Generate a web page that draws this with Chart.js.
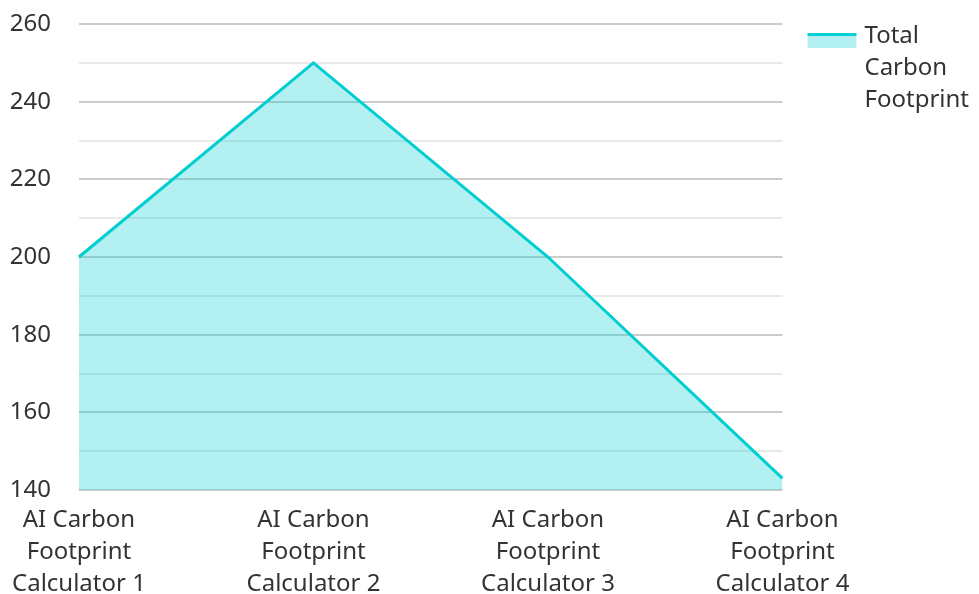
<!DOCTYPE html>
<html>
<head>
<meta charset="utf-8">
<script src="https://cdn.jsdelivr.net/npm/chart.js@4"></script>
<style>
html,body{margin:0;padding:0;background:#fff;}
#wrap{width:979px;height:594px;position:relative;}
</style>
</head>
<body>
<div id="wrap"><canvas id="c"></canvas></div>
<script>
const categories = [
  ["AI Carbon", "Footprint", "Calculator 1"],
  ["AI Carbon", "Footprint", "Calculator 2"],
  ["AI Carbon", "Footprint", "Calculator 3"],
  ["AI Carbon", "Footprint", "Calculator 4"]
];
const seriesLabel = ["Total", "Carbon", "Footprint"];
const seriesValues = [200, 250, 200, 143];
const yMin = 140, yMax = 260, yStep = 10, yLabelStep = 20;

const lineColor = '#00CED1';
const fillColor = 'rgba(0,206,209,0.3)';
const FONT = '"Noto Sans", "Open Sans", sans-serif';

// legend glyph: line above fill
const glyph = document.createElement('canvas');
glyph.width = 70; glyph.height = 40;
(function(){
  const g = glyph.getContext('2d');
  g.fillStyle = fillColor;
  g.fillRect(20, 17, 49, 15);
  g.fillStyle = lineColor;
  g.fillRect(20, 17, 49, 3);
})();

Chart.defaults.font.family = FONT;
Chart.defaults.color = '#333';

new Chart(document.getElementById('c'), {
  type: 'line',
  data: {
    labels: categories,
    datasets: [{
      label: seriesLabel,
      data: seriesValues,
      borderColor: lineColor,
      backgroundColor: fillColor,
      borderWidth: 3,
      fill: 'start',
      tension: 0,
      pointRadius: 0,
      pointHoverRadius: 0,
      pointStyle: glyph
    }]
  },
  options: {
    responsive: true,
    maintainAspectRatio: false,
    animation: false,
    layout: { padding: { left: 0, right: 0, top: 14, bottom: -18 } },
    plugins: {
      tooltip: { enabled: false },
      legend: {
        position: 'right',
        align: 'start',
        labels: {
          usePointStyle: true,
          pointStyleWidth: 60,
          boxHeight: 15,
          color: '#333',
          font: { size: 24, family: FONT, lineHeight: '32px' },
          padding: 10
        }
      }
    },
    scales: {
      x: {
        offset: false,
        grid: { display: true, drawOnChartArea: false, drawTicks: true, tickLength: 2, tickColor: 'rgba(0,0,0,0)' },
        border: { display: false },
        ticks: {
          color: '#333',
          font: { size: 24, family: FONT, lineHeight: '32px' },
          padding: 12,
          maxRotation: 0,
          autoSkip: false
        }
      },
      y: {
        min: yMin,
        max: yMax,
        border: { display: false },
        grid: {
          drawTicks: true,
          tickLength: 20,
          tickColor: 'rgba(0,0,0,0)',
          lineWidth: 2,
          color: (ctx) => (ctx.tick && ctx.tick.value % yLabelStep === 0) ? '#cccccc' : '#e9e9e9'
        },
        ticks: {
          stepSize: yStep,
          color: '#333',
          font: { size: 24, family: FONT, lineHeight: '32px' },
          padding: 8,
          callback: (v) => (v % yLabelStep === 0) ? String(v) : ''
        }
      }
    }
  }
});
</script>
</body>
</html>
